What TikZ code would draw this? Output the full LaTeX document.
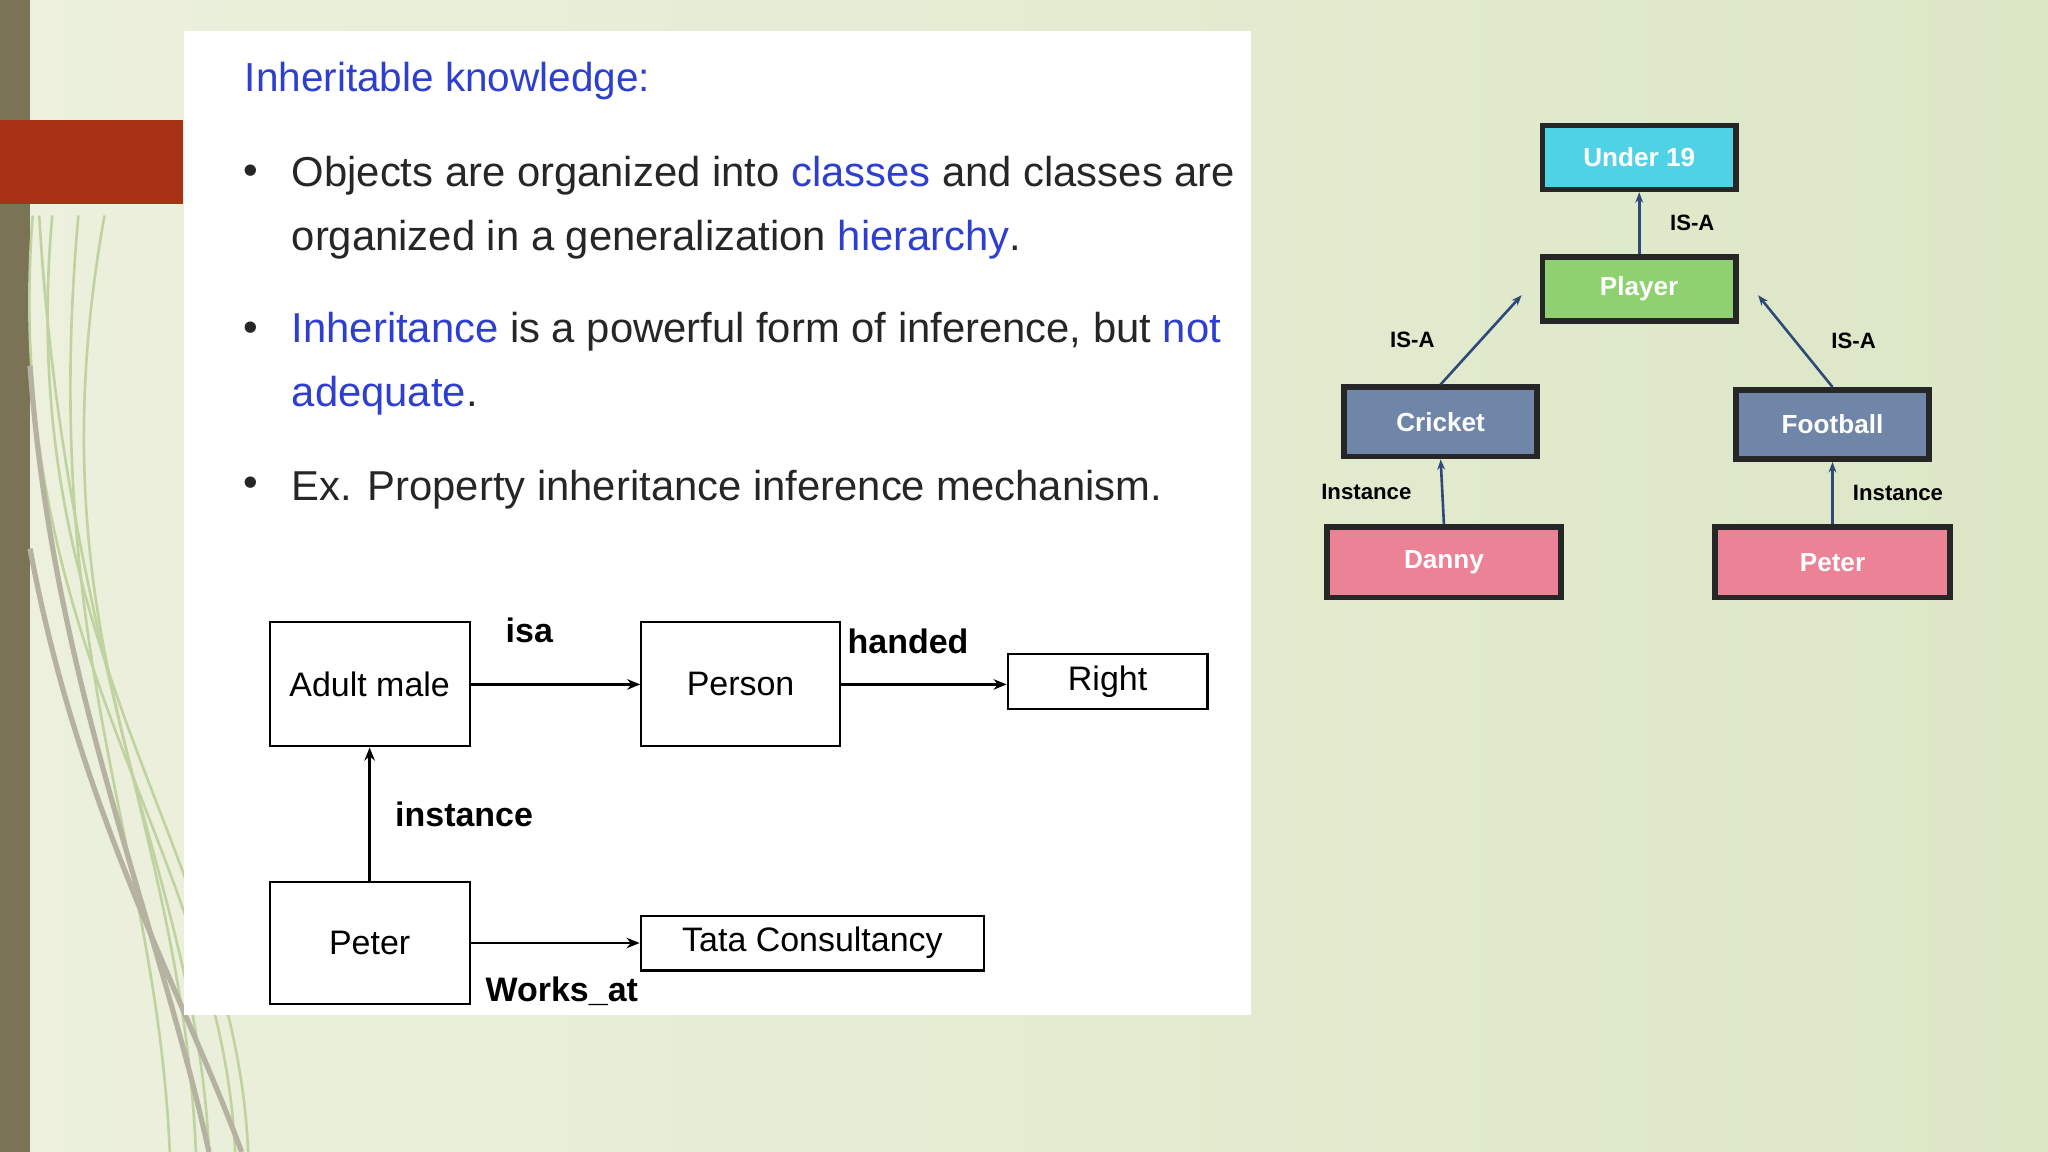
\documentclass[tikz,border=0pt]{standalone}
\usepackage{fontspec}
\setmainfont{Liberation Sans}
\usetikzlibrary{arrows.meta}
\definecolor{bgl}{HTML}{ECF0DD}
\definecolor{bgr}{HTML}{DCE7C6}
\definecolor{strip}{HTML}{7A7356}
\definecolor{redb}{HTML}{A83216}
\definecolor{tblue}{HTML}{2E3FD0}
\definecolor{uc}{HTML}{4FD2E6}
\definecolor{pg}{HTML}{8FD070}
\definecolor{gb}{HTML}{6F86A8}
\definecolor{pk}{HTML}{EC8296}
\definecolor{arr}{HTML}{2F4A78}
\definecolor{curv}{HTML}{BFD2A0}
\tikzset{
  bx/.style={draw=black,line width=0.8pt,inner sep=0},
  cb/.style={draw=black!85,line width=2.2pt,text=white,font=\fontsize{10}{12}\bfseries,inner sep=0},
  lb/.style={font=\fontsize{8.5}{10}\bfseries},
  dl/.style={font=\fontsize{13}{14}\bfseries},
  ar/.style={-{Stealth[length=5pt,width=4pt]},line width=0.9pt},
  ar2/.style={-{Stealth[length=4pt,width=3pt]},line width=1pt,draw=arr},
}
\begin{document}
\begin{tikzpicture}[x=0.5pt,y=-0.5pt]
\shade[left color=bgl, right color=bgr] (0,0) rectangle (1568,882);
\useasboundingbox (0,0) rectangle (1568,882);
\fill[strip] (0,0) rectangle (23,882);
\fill[redb] (0,92) rectangle (140,156);
% decorative curves
\foreach \a/\b/\c in {80/20/150,60/30/120,40/10/180,30/50/140,25/0/170}
  \draw[curv,line width=1pt] (\a,165) .. controls (\b,500) and (\c,650) .. (\c+10,882);
\draw[strip!55,line width=2pt] (23,280) .. controls (40,520) and (120,700) .. (160,882);
\draw[strip!55,line width=2pt] (23,420) .. controls (60,620) and (140,760) .. (185,882);
\fill[white] (141,24) rectangle (958,777);
% text
\node[anchor=west,inner sep=0,text=tblue,font=\fontsize{15.5}{18}\selectfont] (title) at (187,62) {Inheritable knowledge:};
\begin{scope}[font=\fontsize{16}{24.5}\selectfont,text=black!85]
\node[anchor=west,inner sep=0] (b1) at (186,134) {•};
\node[anchor=north west,align=left,inner sep=0] (t1) at (223,119) {Objects are organized into \textcolor{tblue}{classes} and classes are\\organized in a generalization \textcolor{tblue}{hierarchy}.};
\node[anchor=west,inner sep=0] (b2) at (186,254) {•};
\node[anchor=north west,align=left,inner sep=0] (t2) at (223,239) {\textcolor{tblue}{Inheritance} is a powerful form of inference, but \textcolor{tblue}{not}\\\textcolor{tblue}{adequate}.};
\node[anchor=west,inner sep=0] (b3) at (186,373) {•};
\node[anchor=west,inner sep=0] (t3) at (223,375) {Ex. Property inheritance inference mechanism.};
\end{scope}
% lower diagram
\begin{scope}[font=\fontsize{13}{14}\selectfont]
\node[bx,minimum width=76.5,minimum height=47.5] (am) at (283,524) {Adult male};
\node[bx,minimum width=76,minimum height=47.5] (pe) at (567,524) {Person};
\node[bx,minimum width=76.5,minimum height=21] (ri) at (848,522) {Right};
\node[bx,minimum width=76.5,minimum height=47] (pt) at (283,722) {Peter};
\node[bx,minimum width=131.5,minimum height=21] (tc) at (622,722) {Tata Consultancy};
\end{scope}
\draw[ar] (am.east) -- (pe.west|-am.east) node[midway,above=12pt,dl,xshift=-10] {isa};
\draw[ar] (pe.east) -- (ri.west|-pe.east) node[midway,above=8pt,dl,xshift=-6] {handed};
\draw[ar] (pt.east) -- (tc.west|-pt.east) node[pos=0.0,anchor=north west,yshift=-9,xshift=2,dl] {Works\_at};
\draw[ar] (pt.north) -- (am.south) node[midway,right=6pt,dl] {instance};
% right diagram
\node[cb,fill=uc,minimum width=74,minimum height=24.5] (u) at (1255,120.5) {Under 19};
\node[cb,fill=pg,minimum width=74,minimum height=24.5] (p) at (1255,221) {Player};
\node[cb,fill=gb,minimum width=74,minimum height=26.5] (c) at (1103,323) {Cricket};
\node[cb,fill=gb,minimum width=74,minimum height=26.5] (f) at (1403,325) {Football};
\node[cb,fill=pk,minimum width=89.5,minimum height=27] (d) at (1105.5,430.5) {Danny};
\node[cb,fill=pk,minimum width=90,minimum height=27] (q) at (1403,430.5) {Peter};
\draw[ar2] (p.north) -- (u.south) node[midway,right=8pt,black,lb] {IS-A};
\draw[ar2] (c.north) -- (1165,226) node[midway,left=14pt,black,lb] {IS-A};
\draw[ar2] (f.north) -- (1346,226) node[midway,right=10pt,black,lb] {IS-A};
\draw[ar2] (d.north) -- (c.south) node[midway,left=8pt,black,lb] {Instance};
\draw[ar2] (q.north) -- (f.south) node[midway,right=4pt,black,lb] {Instance};
\end{tikzpicture}
\end{document}
